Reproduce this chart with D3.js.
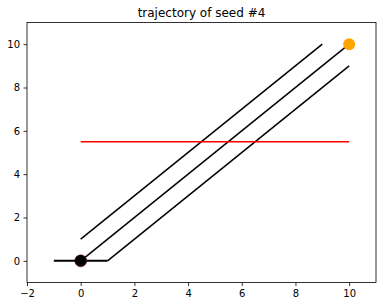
<!DOCTYPE html>
<html>
<head>
<meta charset="utf-8">
<script src="https://cdn.jsdelivr.net/npm/d3@7"></script>
<style>
  body { margin: 0; background: #fff; }
  text { font-family: "DejaVu Sans", sans-serif; }
</style>
</head>
<body>
<svg id="chart" width="383" height="307"></svg>
<script>
"use strict";

const title = 'trajectory of seed #4';
const xTicks = [-2, 0, 2, 4, 6, 8, 10];
const yTicks = [0, 2, 4, 6, 8, 10];

// black trajectory segments, each [[x0, y0], [x1, y1]]
const pathsBlack = [
  [[0, 0], [10, 10]],
  [[0, 1], [9, 10]],
  [[1, 0], [10, 9]]
];
const pathFlat = [[-1, 0], [1, 0]];
const redLine = [[0, 5.5], [10, 5.5]];
const startPoint = [0, 0];
const endPoint = [10, 10];

const margin = {top: 22.5, right: 7, bottom: 24.5, left: 27};
const width = 383, height = 307;

const svg = d3.select('#chart');

const x = d3.scaleLinear().domain([-2, 11]).range([margin.left, width - margin.right]);
const y = d3.scaleLinear().domain([-1, 11]).range([height - margin.bottom, margin.top]);

const line = d3.line().x(function(d){return x(d[0]);}).y(function(d){return y(d[1]);});

svg.append('text')
   .attr('x', (x.range()[0] + x.range()[1]) / 2)
   .attr('y', 17)
   .attr('text-anchor', 'middle')
   .style('font-size', '12px')
   .text(title);

svg.selectAll('.traj')
   .data(pathsBlack)
   .enter()
   .append('path')
   .attr('class', 'traj')
   .attr('d', line)
   .attr('fill', 'none')
   .attr('stroke', '#000')
   .attr('stroke-width', 1.5);

svg.append('path')
   .attr('d', line(pathFlat))
   .attr('fill', 'none')
   .attr('stroke', '#000')
   .attr('stroke-width', 2);

svg.append('path')
   .attr('d', line(redLine))
   .attr('fill', 'none')
   .attr('stroke', 'red')
   .attr('stroke-width', 1.5);

svg.append('circle')
   .attr('cx', x(startPoint[0]))
   .attr('cy', y(startPoint[1]))
   .attr('r', 6)
   .attr('fill', '#000')
   .attr('stroke', '#6b0000')
   .attr('stroke-width', 0.5);

svg.append('circle')
   .attr('cx', x(endPoint[0]))
   .attr('cy', y(endPoint[1]))
   .attr('r', 6)
   .attr('fill', 'orange');

const xAxis = svg.append('g')
   .attr('transform', 'translate(0,' + (height - margin.bottom) + ')')
   .call(d3.axisBottom(x).tickValues(xTicks).tickSize(3.5).tickPadding(3.5)
          .tickFormat(function(d){return d < 0 ? '\u2212' + Math.abs(d) : d;}));

const yAxis = svg.append('g')
   .attr('transform', 'translate(' + margin.left + ',0)')
   .call(d3.axisLeft(y).tickValues(yTicks).tickSize(3.5).tickPadding(3.5));

[xAxis, yAxis].forEach(function(a){
  a.select('.domain').remove();
  a.selectAll('text').style('font-size', '10px').attr('fill', '#000')
   .style('font-family', '"DejaVu Sans", sans-serif');
  a.selectAll('line').attr('stroke', '#000').attr('stroke-width', 0.8);
});

svg.append('rect')
   .attr('x', margin.left)
   .attr('y', margin.top)
   .attr('width', width - margin.left - margin.right)
   .attr('height', height - margin.top - margin.bottom)
   .attr('fill', 'none')
   .attr('stroke', '#000')
   .attr('stroke-width', 0.8);
</script>
</body>
</html>
